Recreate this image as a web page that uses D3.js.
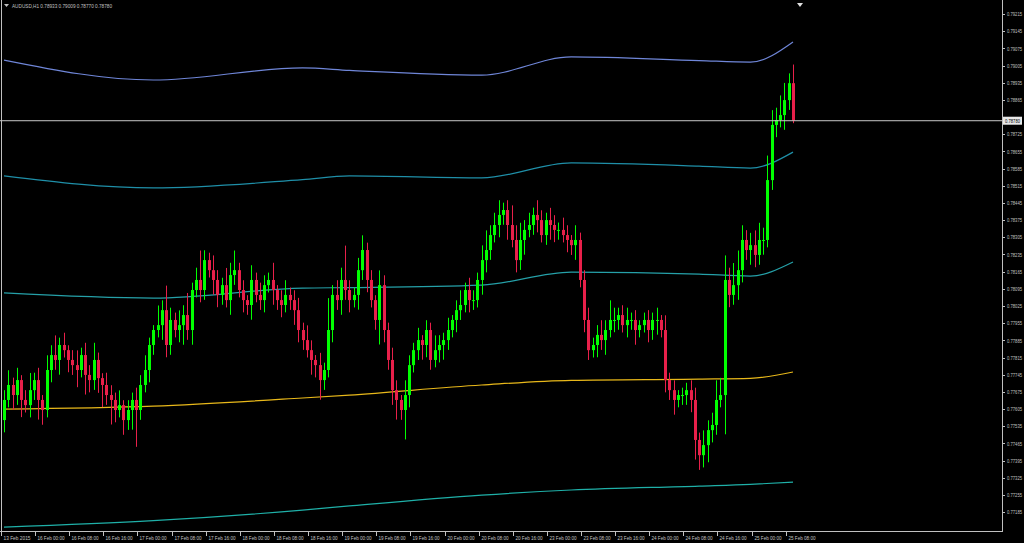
<!DOCTYPE html><html><head><meta charset="utf-8">
<script src="https://cdn.jsdelivr.net/npm/d3@7"></script>
<style>body{margin:0;background:#000;overflow:hidden}text{font-family:"Liberation Sans","DejaVu Sans",sans-serif}</style></head><body>
<svg id="c" width="1024" height="543"></svg>
<script>
const closes=[.77642,.77703,.77662,.77723,.77642,.77621,.77682,.77723,.77642,.77601,
.77764,.77825,.77805,.77866,.77845,.77805,.77784,.77764,.77825,.77744,
.77723,.77805,.77731,.77703,.77662,.77642,.77601,.77621,.77560,.77601,
.77642,.77601,.77703,.77764,.77866,.77927,.77947,.78008,.77866,.77968,
.77927,.77947,.77988,.77927,.78090,.78131,.78090,.78212,.78171,.78131,
.78070,.78110,.78049,.78151,.78171,.78090,.78049,.78029,.78131,.78070,
.78049,.78110,.78131,.78090,.78049,.78029,.78070,.78049,.78008,.77927,
.77886,.77845,.77805,.77784,.77723,.77764,.77927,.78070,.78049,.78131,
.78090,.78049,.78070,.78171,.78253,.78131,.78049,.77968,.78110,.77927,
.77805,.77682,.77642,.77601,.77662,.77784,.77845,.77886,.77866,.77927,
.77805,.77845,.77866,.77886,.77927,.77968,.78008,.78029,.78090,.78049,
.78049,.78131,.78212,.78253,.78314,.78355,.78396,.78416,.78355,.78294,
.78212,.78294,.78335,.78355,.78396,.78375,.78314,.78375,.78355,.78335,
.78335,.78314,.78294,.78273,.78294,.78131,.77968,.77845,.77866,.77907,
.77886,.77927,.77968,.77968,.77988,.77947,.77968,.77968,.77927,.77947,
.77968,.77927,.77968,.77968,.77927,.77723,.77682,.77642,.77662,.77662,
.77682,.77642,.77479,.77417,.77458,.77519,.77540,.77642,.77662,.78131,
.78070,.78110,.78171,.78294,.78253,.78273,.78233,.78294,.78294,.78538,
.78763,.78783,.78803,.78864,.78933,.78780];
const wickUp=[4,6,3,5,2,4,7,3,5,2, 6,4,8,3,5,2,4,6,3,5, 4,7,3,2,5,4,3,6,2,4, 3,5,4,6,3,2,8,4,10,5, 3,6,4,9,3,5,12,4,3,6, 4,3,7,5,8,3,4,2,6,3, 5,4,3,7,2,4,6,3,4,5, 3,6,4,2,5,3,13,4,6,5, 14,4,3,5,6,3,4,2,6,4, 3,5,4,2,6,4,3,5,2,4, 3,6,4,3,5,2,4,6,3,5, 4,3,6,8,4,5,6,3,4,8, 6,7,4,5,3,6,4,3,5,4, 3,5,4,2,6,3,4,5,3,4, 6,4,8,5,3,4,5,3,4,2, 3,4,3,5,2,6,3,4,2,3, 3,4,5,3,6,4,5,8,7,10, 5,9,8,6,4,5,6,7,5,10, 6,5,8,7,4,12];
const wickDn=[5,3,6,4,7,3,5,4,8,6, 3,5,4,6,3,5,4,7,3,8, 5,4,6,9,4,10,5,3,6,4, 8,15,4,3,5,4,3,6,5,4, 3,5,8,4,6,3,5,4,3,6, 5,4,3,6,4,3,5,4,6,3, 4,5,3,6,4,5,3,4,6,5, 4,3,6,5,8,4,3,5,4,6, 4,5,3,6,4,5,3,4,10,5, 4,6,8,4,12,5,3,4,6,5, 4,3,5,6,4,3,5,4,3,5, 4,3,6,5,4,3,5,4,6,3, 5,4,6,3,4,5,3,4,6,5, 4,3,5,4,6,3,5,4,3,5, 4,6,3,5,4,3,5,4,6,3, 3,5,4,6,3,5,4,6,3,4, 4,5,8,6,5,7,5,4,3,16, 5,4,6,5,4,6,5,4,6,3, 4,5,3,6,4,3];
const firstOpen=0.77560;
const bandIdx=[0,35,70,81,112,133,163,175,185];
const bandTop=[0.79027,0.78946,0.78995,0.78985,0.78966,0.79040,0.79025,0.79019,0.79101];
const bandUp=[0.78555,0.78506,0.78540,0.78555,0.78547,0.78608,0.78595,0.78587,0.78652];
const bandMid=[0.78078,0.78057,0.78098,0.78100,0.78110,0.78163,0.78155,0.78147,0.78204];
const bandOr=[0.77605,0.77617,0.77650,0.77662,0.77703,0.77722,0.77727,0.77730,0.77756];
const bandLow=[0.77124,0.77150,0.77193,0.77210,0.77254,0.77275,0.77291,0.77298,0.77307];
const priceTicks=d3.range(30).map(i=>+(0.77185+i*0.0007).toFixed(5));
const timeLabels=["13 Feb 2015","16 Feb 00:00","16 Feb 08:00","16 Feb 16:00","17 Feb 00:00","17 Feb 08:00","17 Feb 16:00","18 Feb 00:00","18 Feb 08:00","18 Feb 16:00","19 Feb 00:00","19 Feb 08:00","19 Feb 16:00","20 Feb 00:00","20 Feb 08:00","20 Feb 16:00","23 Feb 00:00","23 Feb 08:00","23 Feb 16:00","24 Feb 00:00","24 Feb 08:00","24 Feb 16:00","25 Feb 00:00","25 Feb 08:00"];
const current=0.78780;

const svg=d3.select("#c");
const x=d3.scaleLinear().domain([0,185]).range([4,793]);
const y=d3.scaleLinear().domain([0.77112,0.79272]).range([530,0]);
const bars=closes.map((c,i)=>{const o=i?closes[i-1]:firstOpen;return{i,o,c,h:Math.max(o,c)+wickUp[i]*0.0001,l:Math.min(o,c)-wickDn[i]*0.0001};});
bars[185].o=0.78933;bars[185].h=0.79009;bars[185].l=0.78770;
const bands=[[bandTop,"#6f86d8"],[bandUp,"#1f8fa8"],[bandMid,"#25a0a8"],[bandOr,"#e8b81a"],[bandLow,"#1fb0a8"]];
bands.forEach(([v,col])=>{svg.append("path").attr("d",d3.line().x((d,k)=>x(bandIdx[k])).y(d=>y(d)).curve(d3.curveMonotoneX)(v)).attr("fill","none").attr("stroke",col).attr("stroke-width",1.2);});
const g=svg.append("g");
bars.forEach(b=>{const col=b.c>=b.o?"#00ff00":"#e8204a";const cx=Math.round(x(b.i))+0.5;
g.append("line").attr("x1",cx).attr("x2",cx).attr("y1",y(b.h)).attr("y2",y(b.l)).attr("stroke",col).attr("stroke-width",1);
const t=y(Math.max(b.o,b.c)),bt=y(Math.min(b.o,b.c));
g.append("rect").attr("x",cx-1.5).attr("y",t).attr("width",3).attr("height",Math.max(1,bt-t)).attr("fill",col);});
svg.append("line").attr("x1",0).attr("x2",1002).attr("y1",y(current)).attr("y2",y(current)).attr("stroke","#c8c8c8").attr("stroke-width",1);
svg.append("line").attr("x1",1002.5).attr("x2",1002.5).attr("y1",0).attr("y2",531).attr("stroke","#c0c0c0");
svg.append("line").attr("x1",0).attr("x2",1003).attr("y1",531.5).attr("y2",531.5).attr("stroke","#c0c0c0");
svg.append("line").attr("x1",1.5).attr("x2",1.5).attr("y1",0).attr("y2",531).attr("stroke","#c0c0c0");
const fs=6;
priceTicks.forEach(p=>{if(Math.abs(y(p)-y(current))<5)return;
svg.append("line").attr("x1",1002).attr("x2",1005).attr("y1",Math.round(y(p))+.5).attr("y2",Math.round(y(p))+.5).attr("stroke","#c0c0c0");
svg.append("text").attr("x",1007).attr("y",y(p)+2.2).attr("fill","#c0c0c0").attr("font-size",fs).attr("textLength",15).attr("lengthAdjust","spacingAndGlyphs").text(p.toFixed(5));});
svg.append("rect").attr("x",1003).attr("y",y(current)-4).attr("width",19).attr("height",8).attr("fill","#e8e8e8");
svg.append("text").attr("x",1005).attr("y",y(current)+2.2).attr("fill","#000").attr("font-size",fs).attr("textLength",15).attr("lengthAdjust","spacingAndGlyphs").text(current.toFixed(5));
timeLabels.forEach((t,k)=>{const xx=Math.round(x(k*8))-2.5;
svg.append("line").attr("x1",xx).attr("x2",xx).attr("y1",531).attr("y2",536).attr("stroke","#c0c0c0");
svg.append("text").attr("x",xx+2).attr("y",540).attr("fill","#c0c0c0").attr("font-size",fs).attr("textLength",27).attr("lengthAdjust","spacingAndGlyphs").text(t);});
svg.append("path").attr("d","M4,4 L9,4 L6.5,7 Z").attr("fill","#c0c0c0");
svg.append("text").attr("x",12).attr("y",8).attr("fill","#c0c0c0").attr("font-size",fs).attr("textLength",100).attr("lengthAdjust","spacingAndGlyphs").text("AUDUSD,H1  0.78933 0.79009 0.78770 0.78780");
svg.append("path").attr("d","M797,3 L803,3 L800,7 Z").attr("fill","#e0e0e0");
</script></body></html>
